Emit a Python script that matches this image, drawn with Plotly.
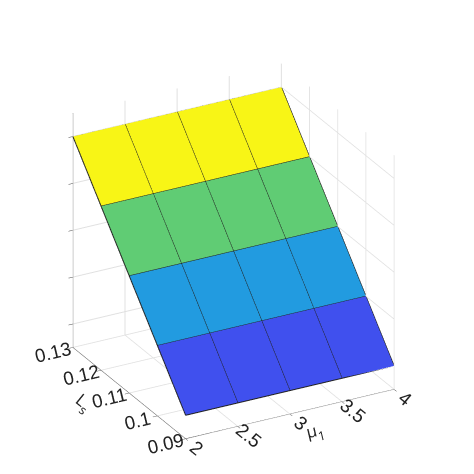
import plotly.graph_objects as go

mu = [2, 2.5, 3, 3.5, 4]
Ls = [0.09, 0.10, 0.11, 0.12, 0.13]
zrow = [1.0, 2.0, 3.0, 4.0, 5.0]
row_colors = ["#4050EE", "#229BE0", "#60CC74", "#F8F516"]

X, Y, Z, I, J, K, FC = [], [], [], [], [], [], []
for r in range(len(Ls)):
    for c in range(len(mu)):
        X.append(mu[c]); Y.append(Ls[r]); Z.append(zrow[r])
n = len(mu)
for r in range(len(Ls) - 1):
    for c in range(n - 1):
        a = r * n + c; b = a + 1; d = a + n; e = d + 1
        I += [a, a]; J += [b, e]; K += [e, d]
        FC += [row_colors[r]] * 2

fig = go.Figure()
fig.add_trace(go.Mesh3d(x=X, y=Y, z=Z, i=I, j=J, k=K, facecolor=FC,
                        flatshading=True, lighting=dict(ambient=1, diffuse=0, specular=0),
                        hoverinfo="skip"))
for r in range(len(Ls)):
    fig.add_trace(go.Scatter3d(x=mu, y=[Ls[r]] * n, z=[zrow[r]] * n, mode="lines",
                               line=dict(color="#222", width=2), hoverinfo="skip"))
for c in range(n):
    fig.add_trace(go.Scatter3d(x=[mu[c]] * len(Ls), y=Ls, z=zrow, mode="lines",
                               line=dict(color="#222", width=2), hoverinfo="skip"))

ax = dict(showbackground=False, gridcolor="#e0e0e0", showline=True, linecolor="#444",
          ticks="outside", tickfont=dict(size=15, color="#222", family="Liberation Sans"))
fig.update_layout(
    width=474, height=474, showlegend=False, paper_bgcolor="white",
    margin=dict(l=0, r=0, t=0, b=0),
    scene=dict(
        xaxis=dict(ax, title=dict(text="μ<sub>1</sub>", font=dict(size=17, color="#222")), tickvals=[2, 2.5, 3, 3.5, 4], range=[2, 4]),
        yaxis=dict(ax, title=dict(text="L<sub>s</sub>", font=dict(size=17, color="#222")), tickvals=[0.09, 0.1, 0.11, 0.12, 0.13], range=[0.09, 0.13]),
        zaxis=dict(ax, title=dict(text=""), range=[0.5, 5.5], showticklabels=False),
        aspectmode="manual", aspectratio=dict(x=1, y=1, z=1.1),
        camera=dict(eye=dict(x=-0.28, y=-0.62, z=0.36), center=dict(x=0.12, y=0.12, z=-0.05),
                    projection=dict(type="orthographic")),
    ),
)
fig.write_html("out.html")
